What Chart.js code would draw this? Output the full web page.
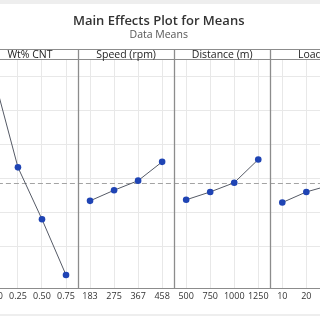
<!DOCTYPE html>
<html><head><meta charset="utf-8">
<script src="https://cdn.jsdelivr.net/npm/chart.js@4.4.1/dist/chart.umd.min.js"></script>
<style>
html,body{margin:0;padding:0;background:#fff;width:320px;height:320px;overflow:hidden;position:relative}
#c{position:absolute;left:-54px;top:0}
.band{position:absolute;left:0;width:320px;background:#eeeeee}
</style></head><body>
<div class="band" style="top:0;height:4px"></div>
<div class="band" style="top:314px;height:2px"></div>
<canvas id="c" width="428" height="320"></canvas>
<script>
const factorNames = ['Wt% CNT', 'Speed (rpm)', 'Distance (m)', 'Load (N)'];
const wtLabels = ['0.00', '0.25', '0.50', '0.75'];
const speedLabels = ['183', '275', '367', '458'];
const distanceLabels = ['500', '750', '1000', '1250'];
const loadLabels = ['10', '20', '30', '40'];
const wtMeans = [6.97, 4.33, 2.81, 1.18];
const speedMeans = [3.35, 3.66, 3.94, 4.49];
const distanceMeans = [3.38, 3.61, 3.88, 4.56];
const loadMeans = [3.30, 3.61, 3.81, 4.72];
const grandMean = 3.86;

const labelSets = [wtLabels, speedLabels, distanceLabels, loadLabels];
const meanSets = [wtMeans, speedMeans, distanceMeans, loadMeans];
const FONT = '"Open Sans", "DejaVu Sans", sans-serif';
const FRAME = '#8c8c8c';

const panelFrame = {
  id: 'panelFrame',
  beforeDatasetsDraw(chart) {
    const {ctx, chartArea: a, scales} = chart;
    const y = Math.round(scales.y.getPixelForValue(grandMean)) + 0.5;
    ctx.save();
    ctx.strokeStyle = '#a3a3a3'; ctx.lineWidth = 1; ctx.setLineDash([5, 3]);
    ctx.beginPath(); ctx.moveTo(a.left, y); ctx.lineTo(a.right, y); ctx.stroke();
    ctx.restore();
  },
  afterDraw(chart) {
    const {ctx, chartArea: a} = chart;
    const hTop = Math.round(a.top) - 11;
    ctx.save();
    ctx.strokeStyle = FRAME; ctx.lineWidth = 1;
    ctx.beginPath();
    ctx.moveTo(a.left, hTop + 0.5); ctx.lineTo(a.right, hTop + 0.5);
    ctx.moveTo(a.left, Math.round(a.top) - 0.5); ctx.lineTo(a.right, Math.round(a.top) - 0.5);
    ctx.stroke();
    ctx.lineWidth = 1.3;
    factorNames.forEach((name, i) => {
      const s = chart.scales['x' + i];
      ctx.beginPath();
      const xl = Math.round(s.left) + 0.5;
      ctx.moveTo(xl, hTop); ctx.lineTo(xl, a.bottom);
      if (i === factorNames.length - 1) {
        const xr = Math.round(s.right) - 0.5;
        ctx.moveTo(xr, hTop); ctx.lineTo(xr, a.bottom);
      }
      ctx.stroke();
      ctx.fillStyle = '#222';
      ctx.font = '10.5px ' + FONT;
      ctx.textAlign = 'center'; ctx.textBaseline = 'middle';
      ctx.fillText(name, (s.left + s.right) / 2, hTop + 6);
    });
    ctx.restore();
  }
};

const scales = {
  y: {
    type: 'linear', min: 0.8, max: 7.47, position: 'left',
    afterBuildTicks(s) { s.ticks = s.ticks.filter(t => Number.isInteger(t.value)); },
    afterFit(s) { s.width = 35.9; },
    ticks: {display: false, stepSize: 1},
    grid: {color: '#e8e8e8', drawTicks: false},
    border: {display: false}
  }
};
labelSets.forEach((labels, i) => {
  scales['x' + i] = {
    type: 'category', labels: labels, position: 'bottom', stack: 'panels', stackWeight: 1,
    offset: true,
    afterFit(s) { s.height = 32; },
    grid: {offset: false, color: '#e8e8e8', drawTicks: false},
    border: {display: true, color: FRAME},
    ticks: {font: {family: FONT, size: 9}, color: '#333', padding: 3, maxRotation: 0, autoSkip: false}
  };
});

new Chart(document.getElementById('c'), {
  type: 'line',
  data: {
    datasets: meanSets.map((vals, i) => ({
      label: factorNames[i], data: vals, xAxisID: 'x' + i, yAxisID: 'y',
      borderColor: '#555a66', borderWidth: 1, tension: 0,
      pointRadius: 3.3, pointBackgroundColor: '#1f44b4', pointBorderColor: '#1f44b4', pointBorderWidth: 0
    }))
  },
  options: {
    responsive: false, animation: false,
    layout: {padding: {left: 0, right: 2.6, top: 0, bottom: 0}},
    scales: scales,
    plugins: {
      legend: {display: false}, tooltip: {enabled: false},
      title: {display: true, text: 'Main Effects Plot for Means', color: '#333',
        font: {family: FONT, size: 13, weight: '600'}, padding: {top: 13, bottom: 0}},
      subtitle: {display: true, text: 'Data Means', color: '#555',
        font: {family: FONT, size: 10.5}, padding: {top: 0, bottom: 18.8}}
    }
  },
  plugins: [panelFrame]
});
</script>
</body></html>
